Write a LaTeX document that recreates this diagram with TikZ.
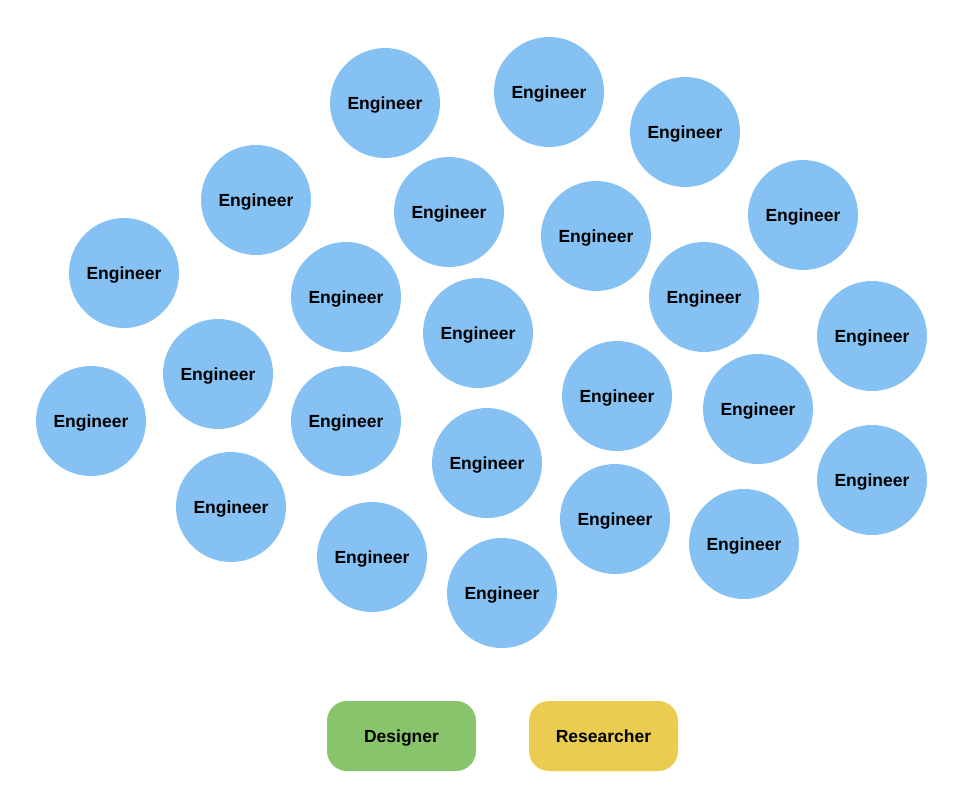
\documentclass[tikz,border=0pt]{standalone}
\usepackage{fontspec}
\setmainfont{Liberation Sans}
\definecolor{engblue}{HTML}{85C1F3}
\definecolor{desgreen}{HTML}{88C46C}
\definecolor{resyellow}{HTML}{EACD50}
\begin{document}
\begin{tikzpicture}[x=1pt,y=-1pt,
  eng/.style={circle,fill=engblue,minimum size=110pt,inner sep=0pt,text depth=0pt,font=\fontsize{17.5}{19}\selectfont\bfseries},
  legbox/.style={rounded corners=20pt,minimum width=149pt,minimum height=70pt,inner sep=0pt,text depth=0pt,font=\fontsize{17.5}{19}\selectfont\bfseries}]
\useasboundingbox (0,0) rectangle (965,808);
\foreach \n/\x/\y in {1/385/103,2/549/92,3/685/132,4/256/200,5/449/212,6/596/236,7/803/215,8/124/273,9/346/297,10/704/297,11/478/333,12/872/336,13/218/374,14/617/396,15/758/409,16/91/421,17/346/421,18/487/463,19/872/480,20/231/507,21/615/519,22/744/544,23/372/557,24/502/593}
  \node[eng] (e\n) at (\x,\y) {Engineer};
\node[legbox,fill=desgreen] (designer) at (401.5,736) {Designer};
\node[legbox,fill=resyellow] (researcher) at (603.5,736) {Researcher};
\end{tikzpicture}
\end{document}
